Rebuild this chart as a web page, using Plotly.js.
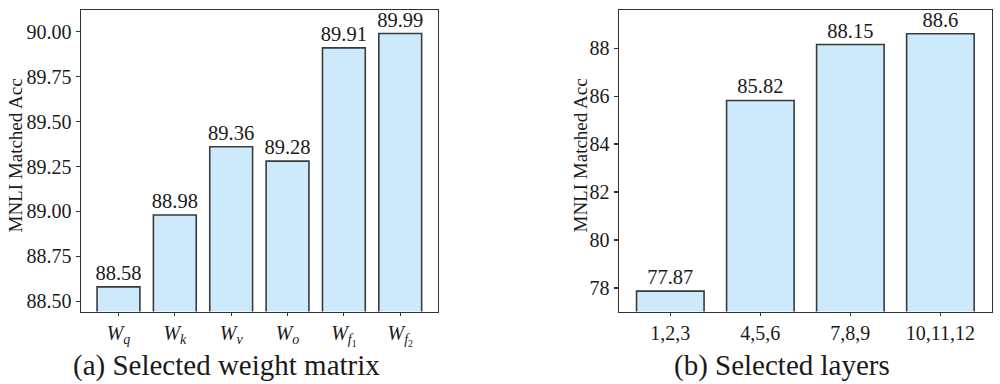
<!DOCTYPE html>
<html>
<head>
<meta charset="utf-8">
<script src="https://cdn.plot.ly/plotly-3.0.1.min.js"></script>
<style>html,body{margin:0;padding:0;background:#fff;}#chart{width:1000px;height:384px;}</style>
</head>
<body>
<div id="chart"></div>
<script>
// Panel (a): selected weight matrix
const weightLabels = ["<i>W</i><sub><i>q</i></sub>", "<i>W</i><sub><i>k</i></sub>", "<i>W</i><sub><i>v</i></sub>", "<i>W</i><sub><i>o</i></sub>", "<i>W</i><sub><i>f</i><sub>1</sub></sub>", "<i>W</i><sub><i>f</i><sub>2</sub></sub>"];
const weightAcc = [88.58, 88.98, 89.36, 89.28, 89.91, 89.99];
const weightTicks = [88.50, 88.75, 89.00, 89.25, 89.50, 89.75, 90.00];

// Panel (b): selected layers
const layerLabels = ["1,2,3", "4,5,6", "7,8,9", "10,11,12"];
const layerAcc = [77.87, 85.82, 88.15, 88.6];
const layerTicks = [78, 80, 82, 84, 86, 88];

const yTitle = "MNLI Matched Acc";
const captions = ["(a) Selected weight matrix", "(b) Selected layers"];

const FONT = "Liberation Serif";
const FILL = "#cdeafc";
const EDGE = "#3a3a3a";
const INK = "#1a1a1a";

const barCommon = {
  type: "bar",
  marker: {color: FILL, line: {color: EDGE, width: 1.6}},
  textposition: "outside",
  constraintext: "none",
  cliponaxis: false,
  textfont: {family: FONT, size: 20.5, color: INK},
  hoverinfo: "skip",
  width: 0.76
};

const traceA = Object.assign({}, barCommon, {
  x: weightLabels.map((_, i) => i),
  y: weightAcc,
  text: weightAcc.map(v => v.toFixed(2)),
  xaxis: "x", yaxis: "y"
});
const traceB = Object.assign({}, barCommon, {
  x: layerLabels.map((_, i) => i),
  y: layerAcc,
  text: layerAcc.map(v => String(v)),
  width: 0.75,
  xaxis: "x2", yaxis: "y2"
});

const axisCommon = {
  showline: true, mirror: true, linecolor: "#333", linewidth: 1.4,
  ticks: "outside", ticklen: 4, tickwidth: 1.2, tickcolor: "#333",
  showgrid: false, zeroline: false, fixedrange: true,
  tickfont: {family: FONT, size: 20, color: INK}
};

const H = 384, W = 1000;
const yDom = [1 - 311.5 / H, 1 - 10 / H];

const layout = {
  width: W, height: H,
  margin: {l: 0, r: 0, t: 0, b: 0},
  paper_bgcolor: "#fff", plot_bgcolor: "#fff",
  showlegend: false,
  font: {family: FONT, color: INK},
  xaxis: Object.assign({}, axisCommon, {
    domain: [81 / W, 437.7 / W], anchor: "y",
    range: [-0.665, 5.665],
    tickmode: "array", tickvals: weightLabels.map((_, i) => i), ticktext: weightLabels,
    ticklen: 3
  }),
  yaxis: Object.assign({}, axisCommon, {
    domain: yDom, anchor: "x",
    range: [88.443, 90.121],
    tickmode: "array", tickvals: weightTicks, ticktext: weightTicks.map(v => v.toFixed(2))
  }),
  xaxis2: Object.assign({}, axisCommon, {
    domain: [619 / W, 991.7 / W], anchor: "y2",
    range: [-0.57, 3.57],
    tickmode: "array", tickvals: layerLabels.map((_, i) => i), ticktext: layerLabels,
    ticklen: 3
  }),
  yaxis2: Object.assign({}, axisCommon, {
    domain: yDom, anchor: "x2",
    range: [77.02, 89.59],
    tickmode: "array", tickvals: layerTicks, ticktext: layerTicks.map(String)
  }),
  annotations: [
    {text: yTitle, xref: "paper", yref: "paper", x: 15 / W, y: 1 - 155.5 / H, textangle: -90,
     xanchor: "center", yanchor: "middle", showarrow: false, font: {family: FONT, size: 19, color: INK}},
    {text: yTitle, xref: "paper", yref: "paper", x: 580 / W, y: 1 - 155.5 / H, textangle: -90,
     xanchor: "center", yanchor: "middle", showarrow: false, font: {family: FONT, size: 19, color: INK}},
    {text: captions[0], xref: "paper", yref: "paper", x: 226.5 / W, y: 1 - 365 / H,
     xanchor: "center", yanchor: "middle", showarrow: false, font: {family: FONT, size: 29, color: INK}},
    {text: captions[1], xref: "paper", yref: "paper", x: 781.7 / W, y: 1 - 365 / H,
     xanchor: "center", yanchor: "middle", showarrow: false, font: {family: FONT, size: 29, color: INK}}
  ]
};

Plotly.newPlot("chart", [traceA, traceB], layout, {staticPlot: true, displayModeBar: false});
</script>
</body>
</html>
